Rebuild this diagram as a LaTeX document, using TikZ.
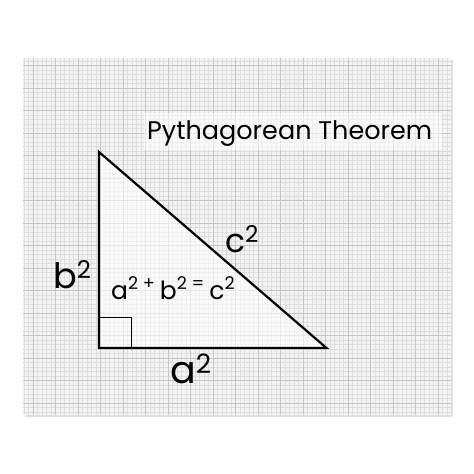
\documentclass[tikz,border=0pt]{standalone}
\usepackage{fontspec}
\setmainfont{Poppins}
\definecolor{paper}{HTML}{F3F3F3}
\definecolor{minorg}{HTML}{DEDEDE}
\definecolor{majorg}{HTML}{C6C6C6}
\tikzset{
  minorline/.style={draw=minorg, line width=0.55pt},
  majorline/.style={draw=majorg, line width=0.9pt},
  edge/.style={draw=black, line width=2.2pt, line join=miter},
  lbl/.style={anchor=base west, inner sep=0pt, text=black},
}
\begin{document}
\begin{tikzpicture}[x=1pt,y=-1pt]
\useasboundingbox (0,0) rectangle (474,474);
\fill[white] (0,0) rectangle (474,474);
% shadow
\fill[black!12] (24.5,60) rectangle (452.5,417);
% poster
\fill[paper] (22.7,58) rectangle (450.7,415);
\begin{scope}
\clip (22.7,58) rectangle (450.7,415);
\foreach \k in {-2,...,92} \draw[minorline] (33+4.5*\k,58) -- (33+4.5*\k,415);
\foreach \k in {-1,...,77} \draw[minorline] (22.7,65.5+4.5*\k) -- (450.7,65.5+4.5*\k);
\foreach \k in {0,...,18} \draw[majorline] (33+22.5*\k,58) -- (33+22.5*\k,415);
\foreach \k in {0,...,15} \draw[majorline] (22.7,65.5+22.5*\k) -- (450.7,65.5+22.5*\k);
\end{scope}
% title band
\fill[white, fill opacity=0.55] (144,113) rectangle (442,150);
\node[lbl, font=\fontsize{25.5}{28}\selectfont] (title) at (147,139) {Pythagorean Theorem};
% triangle
\coordinate (A) at (99,152);
\coordinate (B) at (99,348);
\coordinate (C) at (326.5,348);
\coordinate (S1) at (131.5,348);
\coordinate (S2) at (131.5,317.5);
\coordinate (S3) at (99,317.5);
\fill[white, fill opacity=0.6] (A) -- (B) -- (C) -- cycle;
\draw[black, line width=1.5pt] (S1) -- (S2) -- (S3);
\draw[edge] (A) -- (B) -- (C) -- cycle;
% labels
\node[lbl, font=\fontsize{35}{38}\selectfont] (lb) at (53,288) {b\textsuperscript{2}};
\node[lbl, font=\fontsize{33}{36}\selectfont] (lc) at (225,252) {c\textsuperscript{2}};
\node[lbl, font=\fontsize{38}{42}\selectfont] (la) at (170,383) {a\textsuperscript{2}};
\node[lbl, font=\fontsize{25}{28}\selectfont] (eq) at (111,299) {a\textsuperscript{2 + }b\textsuperscript{2 = }c\textsuperscript{2}};
\end{tikzpicture}
\end{document}
